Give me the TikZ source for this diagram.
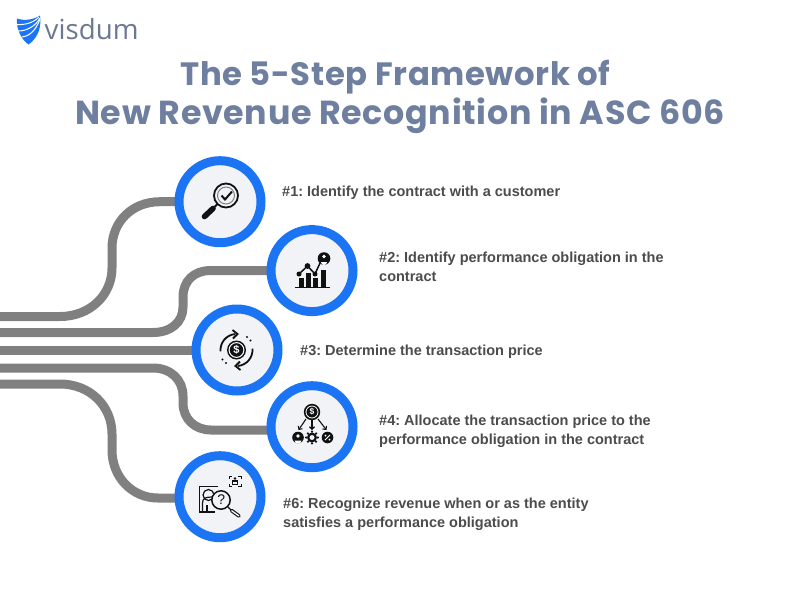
\documentclass[tikz,border=0pt]{standalone}
\usepackage{fontspec}
\setmainfont{Liberation Sans}
\newfontfamily\titlefont{Poppins}[UprightFont=* Bold,LetterSpace=2.0]
\newfontfamily\logofont{Open Sans}
\usetikzlibrary{backgrounds,arrows.meta,calc}
\definecolor{ringblue}{HTML}{1B74F4}
\definecolor{pipegray}{HTML}{808080}
\definecolor{discfill}{HTML}{F2F3F6}
\definecolor{bodytext}{HTML}{4C4C4C}
\definecolor{titleblue}{HTML}{6F7F9F}
\definecolor{logotext}{HTML}{6C7890}
\definecolor{iconblack}{HTML}{111111}
\tikzset{
  ringnode/.style={circle,draw=ringblue,fill=discfill,line width=9pt,minimum size=82pt,inner sep=0pt,outer sep=0pt},
  pipe/.style={draw=pipegray,line width=9pt},
  stepText/.style={anchor=west,align=left,text=bodytext,font=\fontsize{14.5}{19}\selectfont\bfseries\frenchspacing,inner sep=0pt},
  titleText/.style={anchor=base,text=titleblue,inner sep=0pt},
}
\begin{document}
\begin{tikzpicture}[x=1pt,y=-1pt]
\useasboundingbox (0,0) rectangle (800,600);

% logo
\fill[ringblue] (17,18.5) .. controls (24,21) and (33,20) .. (40,15.5) .. controls (41.5,26) and (39,37) .. (28.5,44.5) .. controls (22,40) and (16,30) .. (17,18.5) -- cycle;
\draw[white,line width=1pt] (17,24.5) .. controls (25,25) and (33,23) .. (39,17);
\draw[white,line width=1pt] (18,31) .. controls (26,31) and (35,27) .. (40,18);
\draw[white,line width=1pt] (22,37) .. controls (30,36) and (36,30) .. (40,19);
\node[anchor=base west,inner sep=0pt,text=logotext,font=\fontsize{27.7}{30}\selectfont\logofont] (logo) at (44.5,39.5) {visdum};

% title
\node[titleText,font=\fontsize{32.3}{39}\selectfont\titlefont] (title1) at (395.5,85) {The 5-Step Framework of};
\node[titleText,font=\fontsize{33.3}{39}\selectfont\titlefont] (title2) at (400,124) {New Revenue Recognition in ASC 606};

% rings
\node[ringnode] (c1) at (220,201.7) {};
\node[ringnode] (c2) at (312,270.6) {};
\node[ringnode] (c3) at (237,350) {};
\node[ringnode] (c4) at (312,426.7) {};
\node[ringnode] (c5) at (220,496.7) {};

% free ends
\coordinate (s1) at (0,316.5);
\coordinate (s2) at (0,332.5);
\coordinate (s3) at (0,350);
\coordinate (s4) at (0,368);
\coordinate (s5) at (0,384);
\coordinate (k4) at (0,430);
\coordinate (k5) at (0,498);

\begin{pgfonlayer}{background}
\fill[white] (0,0) rectangle (800,600);
\draw[pipe] (s1) -- (60,316.5) .. controls (90,316.5) and (112,295) .. (112,268) -- (112,248) .. controls (112,222) and (132,201.7) .. (160,201.7) -- (c1.west);
\draw[pipe] (s2) -- (153,332.5) .. controls (171,332.5) and (183,322) .. (183,307) -- (183,297) .. controls (183,281) and (194,270.6) .. (210,270.6) -- (c2.west);
\draw[pipe] (s3) -- (c3.west);
\draw[pipe] (s4) -- (153,368) .. controls (171,368) and (183,380) .. (183,396) -- (183,403) .. controls (183,419) and (195,430) .. (211,430) -- (c4.center |- k4);
\draw[pipe] (s5) -- (60,384) .. controls (90,384) and (112,406) .. (112,434) -- (112,450) .. controls (112,477) and (132,498) .. (158,498) -- (c5.center |- k5);
\end{pgfonlayer}

% step labels
\node[stepText] (t1) at (282,193) {\#1: Identify the contract with a customer};
\node[stepText] (t2) at (379,267) {\#2: Identify performance obligation in the\\contract};
\node[stepText] (t3) at (300,352) {\#3: Determine the transaction price};
\node[stepText] (t4) at (379,431) {\#4: Allocate the transaction price to the\\performance obligation in the contract};
\node[stepText] (t5) at (283,514) {\#6: Recognize revenue when or as the entity\\satisfies a performance obligation};

% icon 1: magnifier with check
\draw[iconblack,line width=1.8pt] (226,195.5) circle (12);
\draw[gray,line width=1pt] (226,195.5) circle (8.5);
\draw[iconblack,line width=2pt] (221.5,195.5) -- (225,199.5) -- (232,191.5);
\draw[iconblack,line width=2pt] (217.5,204) -- (214,207.5);
\draw[iconblack,line width=5.6pt,line cap=round] (213,208.5) -- (204.5,216.5);

% icon 2: chart
\draw[iconblack,line width=1.6pt] (295,287.5) -- (329.5,287.5);
\fill[iconblack] (298.5,278) rectangle (303.5,286.5);
\fill[iconblack] (305.5,273) rectangle (310.5,286.5);
\fill[iconblack] (312.5,278) rectangle (317.5,286.5);
\fill[iconblack] (321,270) rectangle (326,286.5);
\draw[iconblack,line width=1.5pt] (299,274) -- (307.5,266) -- (315,274) -- (320,263);
\fill[iconblack] (299,274) circle (2.5) (307.5,266) circle (2.9) (315,274) circle (2.5);
\fill[iconblack] (324,258.5) circle (6.3);
\fill[white] (324,256.5) circle (1.8) (321,262) arc (180:0:3 and 3) -- cycle;

% icon 3: revolving dollar
\fill[iconblack] (236.5,350) circle (9.5);
\draw[white,line width=1pt] (236.5,350) circle (7.4);
\node[text=white,font=\fontsize{11}{11}\selectfont\bfseries,inner sep=0pt] (dollar3) at (236.5,350) {\$};
\draw[iconblack,line width=1.8pt] (236.5,350) ++(175:16) arc (175:265:16);
\draw[iconblack,line width=1.8pt] (236.5,350) ++(355:16) arc (355:445:16);
\draw[iconblack,line width=1.8pt] (232.5,330) -- (237.5,334) -- (233,338.5);
\draw[iconblack,line width=1.8pt] (240.5,370) -- (235.5,366) -- (240,361.5);
\fill[iconblack] (247,337) circle (1.2) (250.5,340.5) circle (1.1) (226,363) circle (1.2) (222.5,359.5) circle (1.1);

% icon 4: allocation
\fill[iconblack] (312,412) circle (8.2);
\draw[white,line width=.8pt] (312,412) circle (6);
\node[text=white,font=\fontsize{8.5}{9}\selectfont\bfseries,inner sep=0pt] (dollar4) at (312,412) {\$};
\draw[iconblack,line width=1.1pt,-{Straight Barb[length=2.5pt,width=5pt]}] (306,419) -- (298.5,430);
\draw[iconblack,line width=1.1pt,-{Straight Barb[length=2.5pt,width=5pt]}] (312,420) -- (312,430);
\draw[iconblack,line width=1.1pt,-{Straight Barb[length=2.5pt,width=5pt]}] (318,419) -- (326.5,430);
\fill[iconblack] (298,437.5) circle (5.8);
\fill[white] (298,436) circle (1.8) (294.5,440.6) arc (180:0:3.5 and 3) -- cycle;
\draw[iconblack,line width=2.2pt] (312,437.5) circle (3.8);
\foreach \a in {0,45,...,315}{\fill[iconblack] (312,437.5) ++(\a:5.8) circle (1.25);}
\fill[iconblack] (327.5,437.5) circle (5.8);
\draw[white,line width=.8pt] (325,440) -- (330,435);
\fill[white] (325.5,435.5) circle (1) (329.5,439.5) circle (1);

% icon 5: question magnifier
\draw[iconblack,line width=1.4pt] (218,486.5) -- (199.5,486.5) -- (199.5,512) -- (215,512);
\draw[iconblack,line width=1.2pt] (202.5,512) -- (202.5,503) .. controls (202.5,498) and (206,497) .. (212,497);
\draw[iconblack,line width=1.2pt] (208.5,495) circle (5.5);
\draw[iconblack,line width=1.2pt] (207,505) -- (207,512);
\fill[discfill] (221,500) circle (9.6);
\draw[iconblack,line width=1.5pt] (221,500) circle (9.2);
\node[text=iconblack,font=\fontsize{14}{14}\selectfont,inner sep=0pt] (qmark) at (221.2,500) {?};
\draw[iconblack,line width=1.3pt] (228,507) -- (231,510);
\draw[iconblack,line width=3.6pt,line cap=round] (231.5,510.5) -- (239,516);
\draw[discfill,line width=1.4pt,line cap=round] (231.8,510.8) -- (238.8,515.8);
\draw[iconblack,line width=1pt] (229,478.5) -- (229,476) -- (232,476) (238,476) -- (241,476) -- (241,478.5) (241,484) -- (241,486.5) -- (238,486.5) (232,486.5) -- (229,486.5) -- (229,484);
\fill[iconblack] (235,478.5) circle (1.4);
\draw[iconblack,line width=1.1pt] (232.8,484.5) rectangle (237.2,481);
\end{tikzpicture}
\end{document}
